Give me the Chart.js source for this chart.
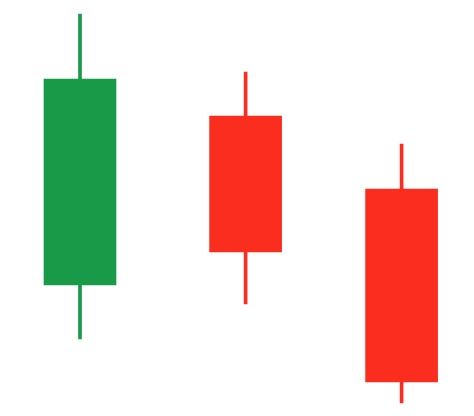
<!DOCTYPE html>
<html>
<head>
<meta charset="utf-8">
<script src="https://cdn.jsdelivr.net/npm/chart.js@4/dist/chart.umd.min.js"></script>
<style>
  html, body { margin: 0; padding: 0; background: #ffffff; }
  #wrap { width: 474px; height: 416px; }
</style>
</head>
<body>
<div id="wrap"><canvas id="c"></canvas></div>
<script>
// Candle positions (time units) and OHLC values
const times = [0.5, 1.535, 2.51];
const opens = [32.75, 75, 56.75];
const closes = [84.25, 41, 8.5];
const highs = [100.5, 86, 68];
const lows = [19.25, 28, 3.25];

const UP = '#189a48';
const DOWN = '#fb2d1f';
const colors = opens.map((o, i) => closes[i] >= o ? UP : DOWN);

const bodies = times.map((t, i) => ({ x: t, y: [opens[i], closes[i]] }));
const wicks = times.map((t, i) => ({ x: t, y: [lows[i], highs[i]] }));

new Chart(document.getElementById('c'), {
  type: 'bar',
  data: {
    datasets: [
      {
        label: 'body',
        data: bodies,
        backgroundColor: colors,
        borderWidth: 0,
        barThickness: 72,
        grouped: false,
        order: 1
      },
      {
        label: 'wick',
        data: wicks,
        backgroundColor: colors,
        borderWidth: 0,
        barThickness: 3,
        grouped: false,
        order: 2
      }
    ]
  },
  options: {
    responsive: true,
    maintainAspectRatio: false,
    animation: false,
    layout: { padding: 0 },
    plugins: { legend: { display: false }, tooltip: { enabled: false } },
    scales: {
      x: { type: 'linear', min: 0, max: 2.9625, offset: false, display: false },
      y: { type: 'linear', min: 0, max: 104, display: false }
    }
  }
});
</script>
</body>
</html>
